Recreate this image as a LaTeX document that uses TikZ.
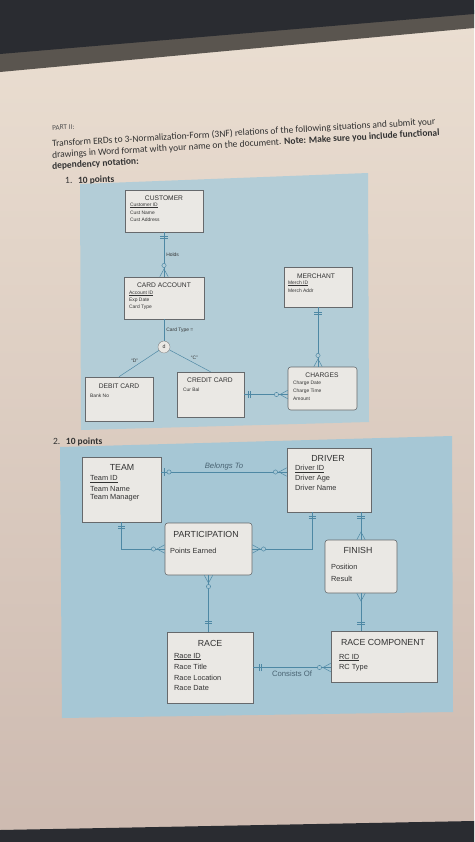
\documentclass[tikz,border=0pt]{standalone}
\usepackage{fontspec}
\setmainfont{Liberation Sans}
\newfontfamily\docfont{Carlito}
\usepackage{tikz}
\usetikzlibrary{positioning,calc,decorations.markings}

\definecolor{pagetop}{HTML}{EBDFD2}
\definecolor{pagemid}{HTML}{E4E1DE}
\definecolor{pagebot}{HTML}{CDBAB0}
\definecolor{desk}{HTML}{2A2C31}
\definecolor{deskedge}{HTML}{5A554F}
\definecolor{panelA}{HTML}{B3CDD7}
\definecolor{panelB}{HTML}{A6C7D5}
\definecolor{boxfill}{HTML}{EAE8E4}
\definecolor{boxline}{HTML}{66696C}
\definecolor{relline}{HTML}{4E88A4}
\definecolor{ink}{HTML}{323232}
\definecolor{relink}{HTML}{4A6473}

\tikzset{
  mk/.style={draw=relline,line width=.7pt},
  onestart/.style={postaction={decorate,decoration={markings,mark=at position #1 with
    {\draw[mk] (0,-5pt) -- (0,5pt) (3pt,-5pt) -- (3pt,5pt);}}}},
  onestart/.default=4pt,
  oneend/.style={postaction={decorate,decoration={markings,mark=at position -#1 with
    {\draw[mk] (0,-5pt) -- (0,5pt) (-3pt,-5pt) -- (-3pt,5pt);}}}},
  oneend/.default=4pt,
  manystart/.style={postaction={decorate,decoration={markings,mark=at position 11pt with
    {\draw[mk] (-11pt,6pt) -- (0,0) -- (-11pt,-6pt);}}}},
  manyend/.style={postaction={decorate,decoration={markings,mark=at position -11pt with
    {\draw[mk] (11pt,6pt) -- (0,0) -- (11pt,-6pt);}}}},
  zmanystart/.style={manystart,postaction={decorate,decoration={markings,mark=at position 16pt with
    {\draw[mk,fill=#1] (0,0) circle (3pt);}}}},
  zmanystart/.default=panelB,
  zmanyend/.style={manyend,postaction={decorate,decoration={markings,mark=at position -16pt with
    {\draw[mk,fill=#1] (0,0) circle (3pt);}}}},
  zmanyend/.default=panelB,
  zonestart/.style={postaction={decorate,decoration={markings,
    mark=at position 4pt with {\draw[mk] (0,-5pt) -- (0,5pt);},
    mark=at position 11pt with {\draw[mk,fill=panelB] (0,0) circle (3pt);}}}}
}

\begin{document}
\begin{tikzpicture}[x=0.05cm,y=-0.05cm,
  ent/.style={draw=boxline,fill=boxfill,line width=.8pt,inner sep=0pt},
  wk/.style={ent,rounded corners=4pt},
  rel/.style={draw=relline,line width=.7pt},
  hd/.style={font=\docfont\fontsize{13.5}{15}\selectfont,text=ink,anchor=west,inner sep=0pt,rotate=3.3},
  ta/.style={font=\fontsize{9.5}{10}\selectfont,text=ink,inner sep=0pt},
  aa/.style={font=\fontsize{7}{8}\selectfont,text=ink,inner sep=0pt,anchor=west},
  tb/.style={font=\fontsize{12.5}{14}\selectfont,text=ink,inner sep=0pt},
  ab/.style={font=\fontsize{10.5}{12}\selectfont,text=ink,inner sep=0pt,anchor=west},
  la/.style={font=\fontsize{7}{8}\selectfont,text=ink,inner sep=1pt},
  lb/.style={font=\fontsize{11}{12}\selectfont,text=relink,inner sep=1pt}]
\useasboundingbox (0,0) rectangle (474,842);
\shade[top color=pagetop,middle color=pagemid,bottom color=pagebot] (0,0) rectangle (474,842);
\fill[deskedge] (0,48) -- (474,10) -- (474,28) -- (0,72) -- cycle;
\fill[desk] (0,0) -- (474,0) -- (474,14) -- (0,54) -- cycle;
\fill[desk] (0,830) -- (474,821) -- (474,842) -- (0,842) -- cycle;

\node[hd,font=\docfont\fontsize{10.5}{12}\selectfont,text=ink!85] (part) at (52,128) {PART II:};
\node[hd] (line1) at (52,144) {Transform ERDs to 3-Normalization-Form (3NF) relations of the following situations and submit your};
\node[hd] (line2) at (52,155.5) {drawings in Word format with your name on the document. \textbf{Note: Make sure you include functional}};
\node[hd] (line3) at (52,166.5) {\textbf{dependency notation:}};
\node[hd,rotate=-2] (q1) at (65,181) {1.\hspace{8pt}\textbf{10 points}};

\fill[panelA] (80,184) -- (368,173) -- (369,422) -- (81,430) -- cycle;
\fill[panelB] (60,447) -- (452,436) -- (453,712) -- (62,718) -- cycle;
\node[hd,rotate=-3.3] (q2) at (53,442) {2.\hspace{8pt}\textbf{10 points}};

% part 1
\node[ent,minimum width=3.9cm,minimum height=2.1cm] (customer) at (164,211) {};
\node[ta] (customer-t) at (164,198) {CUSTOMER};
\node[aa] (customer-a) at (130,205.5) {\underline{Customer ID}};
\node[aa] (customer-b) at (130,212.5) {Cust Name};
\node[aa] (customer-c) at (130,219.5) {Cust Address};

\node[ent,minimum width=4cm,minimum height=2.1cm] (cardacct) at (164,298) {};
\node[ta] (cardacct-t) at (164,285) {CARD ACCOUNT};
\node[aa] (cardacct-a) at (129,293.5) {\underline{Account ID}};
\node[aa] (cardacct-b) at (129,300.5) {Exp Date};
\node[aa] (cardacct-c) at (129,307.5) {Card Type};

\node[ent,minimum width=3.4cm,minimum height=2cm] (merchant) at (318,287) {};
\node[ta] (merchant-t) at (316,276) {MERCHANT};
\node[aa] (merchant-a) at (288,283.5) {\underline{Merch ID}};
\node[aa] (merchant-b) at (288,290.5) {Merch Addr};

\node[circle,draw=boxline,fill=boxfill,minimum size=.6cm,inner sep=0pt,
  font=\fontsize{7.5}{8}\selectfont,text=ink] (disj) at (164,347) {d};

\node[ent,minimum width=3.4cm,minimum height=2.2cm] (debit) at (119,399) {};
\node[ta] (debit-t) at (119,386) {DEBIT CARD};
\node[aa] (debit-a) at (90,396) {Bank No};

\node[ent,minimum width=3.35cm,minimum height=2.25cm] (credit) at (210.5,394.5) {};
\node[ta] (credit-t) at (210,380) {CREDIT CARD};
\node[aa] (credit-a) at (183,390) {Cur Bal};

\node[wk,minimum width=3.45cm,minimum height=2.15cm] (charges) at (322.5,388.5) {};
\node[ta] (charges-t) at (322,375) {CHARGES};
\node[aa] (charges-a) at (293,383.5) {Charge Date};
\node[aa] (charges-b) at (293,391) {Charge Time};
\node[aa] (charges-c) at (293,398.5) {Amount};

\draw[rel,onestart=5pt,zmanyend=panelA] (customer) -- node[la,right=2pt] (holds) {Holds} (cardacct);
\draw[rel] (cardacct) -- node[la,right=2pt] (cardtype) {Card Type =} (disj);
\draw[rel] (disj) -- node[la,above left=0pt] (dlab) {“D”} (debit.north);
\draw[rel] (disj) -- node[la,above right=0pt] (clab) {“C”} (credit.north);
\draw[rel,onestart=7pt,zmanyend=panelA] (merchant.south) -- (merchant.south |- charges.north);
\draw[rel,onestart=5pt,zmanyend=panelA] (credit.east) -- (credit.east -| charges.west);

% part 2
\node[ent,minimum width=3.95cm,minimum height=3.25cm] (team) at (121.5,489.5) {};
\node[tb] (team-t) at (122,467) {TEAM};
\node[ab] (team-a) at (90,479) {\underline{Team ID}};
\node[ab] (team-b) at (90,488.5) {Team Name};
\node[ab] (team-c) at (90,497.5) {Team Manager};

\node[ent,minimum width=4.2cm,minimum height=3.2cm] (driver) at (329,480) {};
\node[tb] (driver-t) at (328,458) {DRIVER};
\node[ab] (driver-a) at (295,469) {\underline{Driver ID}};
\node[ab] (driver-b) at (295,478.5) {Driver Age};
\node[ab] (driver-c) at (295,488) {Driver Name};

\node[wk,minimum width=4.35cm,minimum height=2.6cm] (participation) at (208.5,549) {};
\node[tb] (participation-t) at (206,534) {PARTICIPATION};
\node[ab] (participation-a) at (170,551) {Points Earned};

\node[wk,minimum width=3.6cm,minimum height=2.65cm] (finish) at (361,566.5) {};
\node[tb] (finish-t) at (358,550) {FINISH};
\node[ab] (finish-a) at (331,567) {Position};
\node[ab] (finish-b) at (331,578.5) {Result};

\node[ent,minimum width=4.3cm,minimum height=3.55cm] (race) at (210,667.5) {};
\node[tb] (race-t) at (210,643) {RACE};
\node[ab] (race-a) at (174,656.5) {\underline{Race ID}};
\node[ab] (race-b) at (174,667) {Race Title};
\node[ab] (race-c) at (174,677.5) {Race Location};
\node[ab] (race-d) at (174,688) {Race Date};

\node[ent,minimum width=5.3cm,minimum height=2.55cm] (racecomp) at (384,656.5) {};
\node[tb] (racecomp-t) at (383,642) {RACE COMPONENT};
\node[ab] (racecomp-a) at (339,657.5) {\underline{RC ID}};
\node[ab] (racecomp-b) at (339,668) {RC Type};

\draw[rel,zonestart,zmanyend] (team.east |- 0,472) -- node[lb,font=\itshape\fontsize{11}{12}\selectfont,above=1pt] (belongs) {Belongs To} (driver.west |- 0,472);
\draw[rel,onestart=6pt,zmanyend] (team.south) |- (participation.west);
\draw[rel,onestart=5pt,zmanyend] ($(driver.south west)!.3!(driver.south east)$) |- (participation.east);
\draw[rel,onestart=5pt,manyend] (finish.north |- driver.south) -- (finish.north);
\draw[rel,zmanystart,oneend=12pt] (participation.south) -- (participation.south |- race.north);
\draw[rel,manystart,oneend=9pt] (finish.south) -- (finish.south |- racecomp.north);
\draw[rel,onestart=8pt,zmanyend] (race.east) -- node[lb,below=4pt] (consists) {Consists Of} (race.east -| racecomp.west);
\end{tikzpicture}
\end{document}
